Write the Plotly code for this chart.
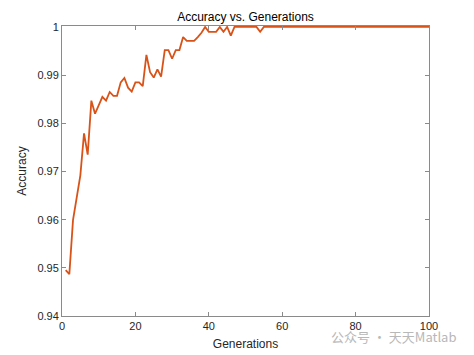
import plotly.graph_objects as go

generations = list(range(1, 101))
accuracy_head = [
    0.9495, 0.9487, 0.9599, 0.9644, 0.9692, 0.9779, 0.9735, 0.9847, 0.9820, 0.9837,
    0.9855, 0.9847, 0.9865, 0.9857, 0.9857, 0.9885, 0.9894, 0.9874, 0.9866, 0.9885,
    0.9885, 0.9877, 0.9942, 0.9906, 0.9895, 0.9912, 0.9897, 0.9952, 0.9952, 0.9934,
    0.9952, 0.9952, 0.9979, 0.9971, 0.9971, 0.9971, 0.9979, 0.9988, 1.0000, 0.9990,
    0.9990, 0.9990, 1.0000, 0.9990, 1.0000, 0.9982, 1.0000, 1.0000, 1.0000, 1.0000,
    1.0000, 1.0000, 1.0000, 0.9990, 1.0000,
]
accuracy_tail = [1.0000] * 45
accuracy = accuracy_head + accuracy_tail

x_ticks = [0, 20, 40, 60, 80, 100]
y_ticks = [0.94, 0.95, 0.96, 0.97, 0.98, 0.99, 1.0]
y_tick_labels = ["0.94", "0.95", "0.96", "0.97", "0.98", "0.99", "1"]

FONT = "Liberation Sans, Arial, sans-serif"
AXIS_GRAY = "#8a8a8a"
TEXT = "#262626"

# page body has an 8px default margin; size the figure to fit the window
W, H = 466, 347

fig = go.Figure()
fig.add_trace(go.Scatter(
    x=generations, y=accuracy, mode="lines",
    line=dict(color="#D95319", width=1.8),
    showlegend=False,
))

fig.update_layout(
    width=W, height=H,
    margin=dict(l=54, r=45, t=18, b=39, autoexpand=False),
    paper_bgcolor="white", plot_bgcolor="white",
    font=dict(family=FONT, size=11, color=TEXT),
    title=dict(text="Accuracy vs. Generations", x=0.5, xref="paper", xanchor="center",
               y=1 - 9 / H, yref="container", yanchor="middle",
               font=dict(family=FONT, size=12, color="#000000")),
)
fig.update_xaxes(
    range=[0, 100], tickvals=x_ticks, ticktext=[str(v) for v in x_ticks],
    showgrid=False, zeroline=False, showline=True, linecolor=AXIS_GRAY, linewidth=1,
    mirror="ticks", ticks="inside", ticklen=4, tickcolor=AXIS_GRAY,
    tickfont=dict(family=FONT, size=11, color=TEXT), automargin=False,
    title=dict(text="Generations", standoff=8, font=dict(family=FONT, size=12, color=TEXT)),
)
fig.update_yaxes(
    range=[0.94, 1.0002], tickvals=y_ticks, ticktext=y_tick_labels,
    showgrid=False, zeroline=False, showline=True, linecolor=AXIS_GRAY, linewidth=1,
    mirror="ticks", ticks="inside", ticklen=4, tickcolor=AXIS_GRAY,
    tickfont=dict(family=FONT, size=11, color=TEXT), automargin=False,
    title=dict(text="Accuracy", standoff=8, font=dict(family=FONT, size=12, color=TEXT)),
)

fig.add_annotation(
    text="公众号 · 天天Matlab", xref="paper", yref="paper",
    x=1.08, y=-0.07, xanchor="right", yanchor="middle", showarrow=False,
    font=dict(family="Noto Sans CJK SC", size=13, color="#b8b8b8"),
)

fig.write_html("out.html")
